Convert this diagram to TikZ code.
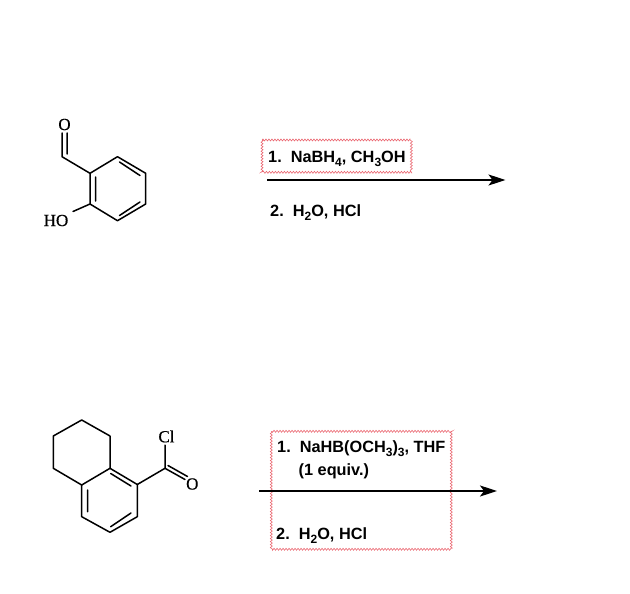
\documentclass[tikz,border=0pt]{standalone}
\usepackage{fontspec}
\setmainfont{Liberation Sans}
\newfontfamily\atomfont[FakeBold=0.4]{Liberation Serif}
\usetikzlibrary{arrows.meta,decorations.pathmorphing}
\definecolor{boxred}{RGB}{235,105,115}
\newcommand{\lowidx}[1]{\raisebox{-0.45ex}{\fontsize{12}{12}\selectfont #1}}
\tikzset{
  x=1pt,y=-1pt,
  bond/.style={line width=1.5pt,line cap=round,line join=round,black},
  atom/.style={font=\atomfont\fontsize{17}{17}\selectfont,inner sep=0pt,text=black},
  reagent/.style={font=\bfseries\fontsize{16.3}{18}\selectfont,inner sep=0pt,anchor=west,text=black,align=left},
  rxnarrow/.style={line width=1.7pt,-{Stealth[length=17pt,width=11pt,inset=4pt]},black},
  selbox/.style={draw=boxred,line width=0.6pt,decorate,decoration={zigzag,amplitude=1pt,segment length=3pt}},
}
\begin{document}
\begin{tikzpicture}
\useasboundingbox (0,0) rectangle (630,594);
\fill[white] (0,0) rectangle (630,594);
% molecule 1
\coordinate (a1) at (90,173.3);
\coordinate (a2) at (117.5,156.7);
\coordinate (a3) at (145.7,173.3);
\coordinate (a4) at (145.7,204);
\coordinate (a5) at (117.5,220.7);
\coordinate (a6) at (90,204);
\coordinate (ac) at (62,156.7);
\coordinate (ai1) at (95.5,177);
\coordinate (ai2) at (95.5,201);
\coordinate (ai3) at (119.5,162);
\coordinate (ai4) at (140,175.5);
\coordinate (ai5) at (140,202);
\coordinate (ai6) at (119.5,215.5);
\coordinate (ao1) at (62,133);
\coordinate (ao2) at (67,133);
\coordinate (ao3) at (67,154);
\coordinate (ah) at (73,211.5);
\node[atom] (o1) at (64.5,124.5) {O};
\node[atom] (ho) at (56,220.5) {HO};
\draw[bond] (a1)--(a2)--(a3)--(a4)--(a5)--(a6)--cycle;
\draw[bond] (ai1)--(ai2) (ai3)--(ai4) (ai5)--(ai6);
\draw[bond] (a1)--(ac)--(ao1) (ao3)--(ao2);
\draw[bond] (a6)--(ah);
% molecule 2
\coordinate (b1) at (110,468.3);
\coordinate (b2) at (137.3,484.5);
\coordinate (b3) at (137.3,516.7);
\coordinate (b4) at (110,532.3);
\coordinate (b5) at (81.7,516.7);
\coordinate (b6) at (81.7,485);
\coordinate (b7) at (53.3,468.3);
\coordinate (b8) at (53.3,436);
\coordinate (b9) at (81.7,420);
\coordinate (b10) at (110,436);
\coordinate (bc) at (165,468.3);
\coordinate (bl) at (165,445);
\coordinate (bo1) at (185,479.5);
\coordinate (bo2) at (168,465.5);
\coordinate (bo3) at (187.5,476.5);
\coordinate (bi1) at (87.7,490);
\coordinate (bi2) at (87.7,511.7);
\coordinate (bi3) at (131,513);
\coordinate (bi4) at (110.7,526.7);
\coordinate (bi5) at (110.7,473.5);
\coordinate (bi6) at (131,486);
\node[atom] (cl) at (166.5,436.5) {Cl};
\node[atom] (o2) at (192.3,484) {O};
\draw[bond] (b1)--(b2)--(b3)--(b4)--(b5)--(b6)--cycle;
\draw[bond] (b6)--(b7)--(b8)--(b9)--(b10)--(b1);
\draw[bond] (bi1)--(bi2) (bi3)--(bi4) (bi5)--(bi6);
\draw[bond] (b2)--(bc)--(bl) (bc)--(bo1) (bo2)--(bo3);
% reaction 1
\coordinate (s1) at (262,140);
\coordinate (e1) at (411.3,172.3);
\draw[selbox] (s1) rectangle (e1);
\coordinate (p1) at (267,180);
\coordinate (q1) at (505.5,180);
\draw[rxnarrow] (p1)--(q1);
\node[reagent] (r1) at (268,158.5) {1.\ \ NaBH\lowidx{4}, CH\lowidx{3}OH};
\node[reagent] (r2) at (270,212.5) {2.\ \ H\lowidx{2}O, HCl};
% reaction 2
\coordinate (s2) at (271.3,431.3);
\coordinate (e2) at (451.3,549.3);
\draw[selbox] (s2) rectangle (e2);
\coordinate (p2) at (259,491);
\coordinate (q2) at (497,491);
\draw[rxnarrow] (p2)--(q2);
\node[reagent] (r3) at (277,449) {1.\ \ NaHB(OCH\lowidx{3})\lowidx{3}, THF};
\node[reagent] (r4) at (298.5,471) {(1 equiv.)};
\node[reagent] (r5) at (276,535.5) {2.\ \ H\lowidx{2}O, HCl};
\end{tikzpicture}
\end{document}
